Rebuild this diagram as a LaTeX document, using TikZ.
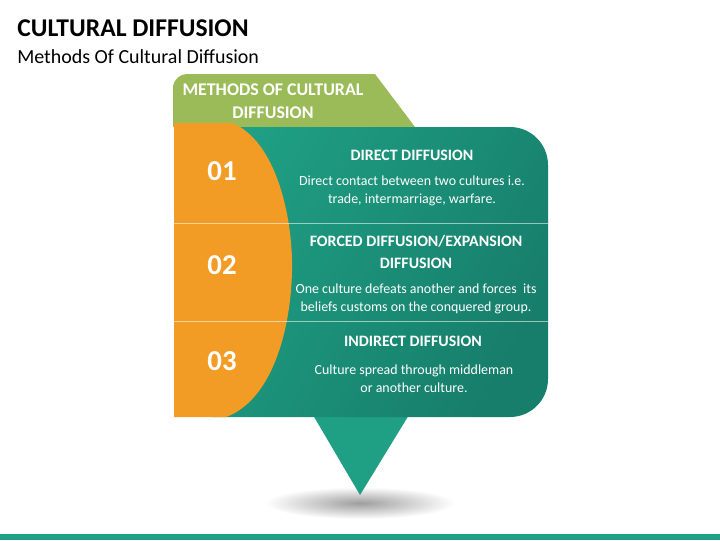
\documentclass[tikz,border=0pt]{standalone}
\usepackage{fontspec}
\setmainfont{Carlito}
\definecolor{orange1}{RGB}{243, 156, 37}
\definecolor{green1}{RGB}{155, 187, 89}
\definecolor{teal1}{RGB}{31, 160, 133}
\definecolor{teal2}{RGB}{23, 126, 107}
\usetikzlibrary{positioning}

\tikzset{
  numtext/.style={text=white, font=\bfseries\fontsize{20.5}{24}\selectfont, inner sep=0pt},
  headtext/.style={text=white, align=center, font=\bfseries\fontsize{11.3}{15.6}\selectfont, inner sep=0pt},
  bodytext/.style={text=white, align=center, font=\fontsize{9.9}{12.8}\selectfont, inner sep=0pt},
  divider/.style={draw=white, draw opacity=0.55, line width=0.6pt}
}

\begin{document}
\begin{tikzpicture}[x=0.025cm, y=-0.025cm]
  \useasboundingbox (0,0) rectangle (720,540);

  % titles
  \node[anchor=base west, inner sep=0pt, font=\bfseries\fontsize{18.2}{21}\selectfont] (title) at (17,36) {CULTURAL DIFFUSION};
  \node[anchor=base west, inner sep=0pt, font=\fontsize{14.2}{17}\selectfont] (subtitle) at (17,63) {Methods Of Cultural Diffusion};

  % green tab
  \fill[green1] (173,127) -- (173,86) [rounded corners=0.3cm] -- (175,74) [sharp corners] -- (375,74) -- (415,127) -- cycle;
  \node[text=white, align=center, inner sep=0pt, font=\bfseries\fontsize{12.7}{16.3}\selectfont] (tab) at (273,101) {METHODS OF CULTURAL\\DIFFUSION};

  % pointer and shadow
  \shade[inner color=black!38, outer color=white] (360,503) ellipse (95 and 16);
  \fill[teal1] (310,410) -- (412,410) -- (360,495) -- cycle;

  % teal body
  \shade[rounded corners=0.95cm, left color=teal1, right color=teal2, shading angle=60] (174,127) rectangle (548,417);

  % orange band
  \fill[orange1] (174,123) -- (232,123) .. controls (275,140) and (293,215) .. (292,270)
    .. controls (291,330) and (272,400) .. (226,417) -- (174,417) -- cycle;

  \draw[divider] (174,223) -- (548,223);
  \draw[divider] (174,321) -- (548,321);

  % numbers
  \node[numtext] (n1) at (222,171) {01};
  \node[numtext] (n2) at (222,265) {02};
  \node[numtext] (n3) at (222,361) {03};

  % texts
  \node[headtext] (h1) at (412,155) {DIRECT DIFFUSION};
  \node[bodytext] (b1) at (412,191) {Direct contact between two cultures i.e.\\trade, intermarriage, warfare.};
  \node[headtext] (h2) at (416,252) {FORCED DIFFUSION/EXPANSION\\DIFFUSION};
  \node[bodytext] (b2) at (416,299) {One culture defeats another and forces\ \ its\\beliefs customs on the conquered group.};
  \node[headtext] (h3) at (413,341) {INDIRECT DIFFUSION};
  \node[bodytext] (b3) at (414,379) {Culture spread through middleman\\or another culture.};

  % bottom bar
  \fill[teal1] (0,534) rectangle (720,540);
\end{tikzpicture}
\end{document}
